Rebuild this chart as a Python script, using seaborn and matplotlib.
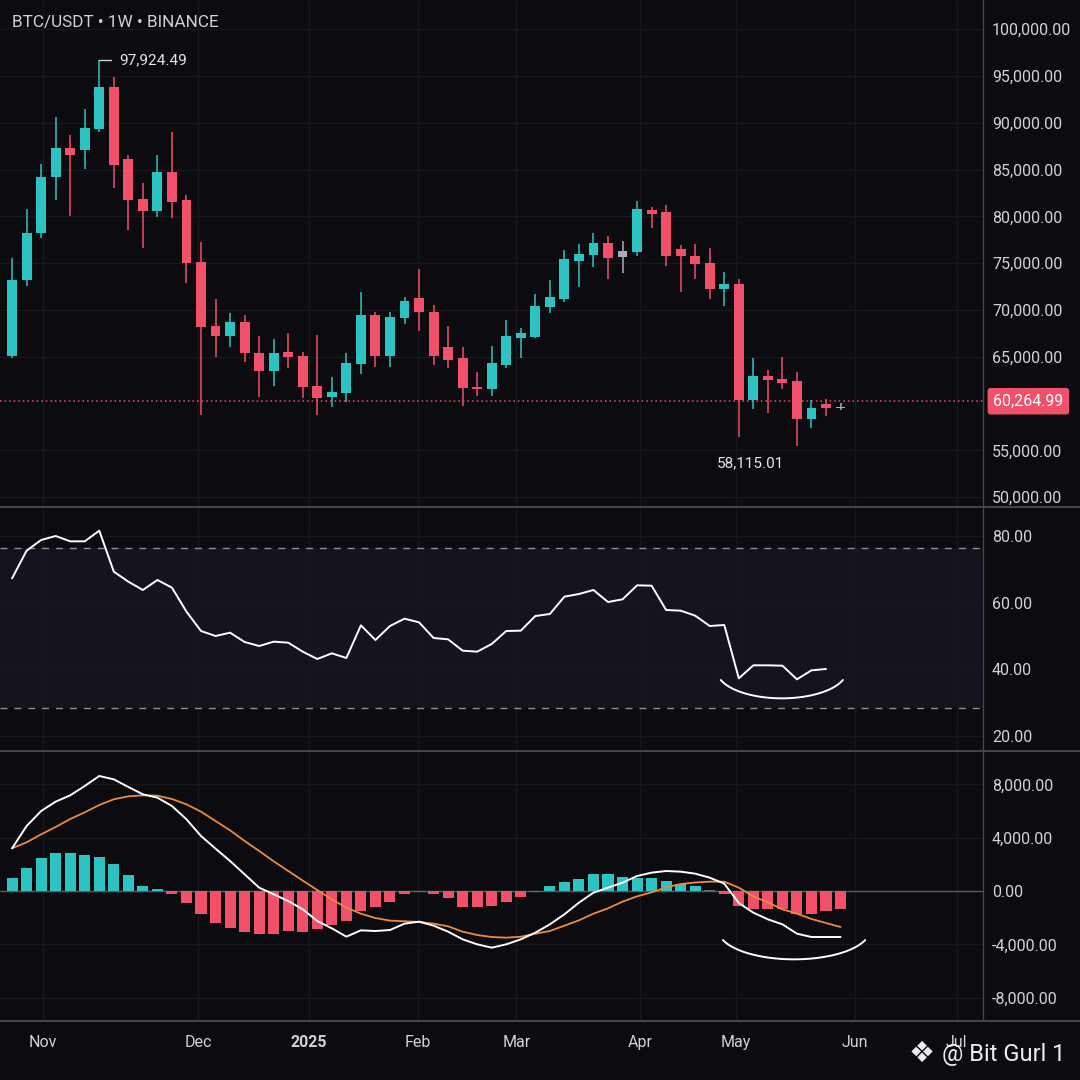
import numpy as np
import pandas as pd
import matplotlib.pyplot as plt
import seaborn as sns
from matplotlib.lines import Line2D
from matplotlib.ticker import FuncFormatter
from matplotlib.transforms import blended_transform_factory

# colours
BG = "#0b0b10"
BAND = "#15131e"
UP = "#2ec3c3"
DOWN = "#f0506a"
FLAT = "#a9adb8"
TXT = "#d2d2d6"
SEP = "#46464d"
GRID = "#17171d"
ORANGE = "#ef8a3c"

# weekly candles
opens = [65095, 73215, 78236, 84219, 87318, 87104, 89348, 93835, 86142, 81869,
         80587, 84754, 81762, 75138, 68300, 67232, 68728, 65415, 63492, 65522,
         65095, 61890, 60715, 61142, 64240, 69475, 65095, 69155, 71292, 69796,
         66057, 64881, 61783, 61569, 64133, 67018, 67125, 70330, 71185, 75245,
         75886, 77168, 75672, 76206, 80694, 80480, 76527, 75779, 75031, 72253,
         72787, 60394, 62958, 62638, 62424, 58364, 59967, 59646]
highs = [75565, 80800, 85608, 90630, 88707, 91484, 96720, 94903, 86570, 83578,
         86570, 89027, 82296, 77275, 71185, 69689, 69475, 67232, 66911, 67552,
         65522, 67339, 62851, 65415, 71933, 69796, 69796, 71399, 74390, 70544,
         68300, 66057, 63386, 66163, 68941, 68086, 71719, 73215, 76420, 77061,
         78236, 77916, 77382, 81655, 81014, 81228, 76954, 77061, 76634, 74070,
         73322, 64881, 63599, 64988, 63386, 60394, 60501, 60073]
lows = [64881, 72574, 77702, 81762, 80053, 85074, 89027, 83044, 78557, 76634,
        79946, 79839, 72894, 58791, 64988, 66057, 64454, 60715, 61890, 63813,
        60608, 58791, 59646, 60180, 63172, 63920, 63920, 68514, 67766, 64133,
        63813, 59753, 60821, 60821, 63813, 64881, 67018, 69689, 70864, 72467,
        74604, 73322, 73963, 75779, 78770, 74711, 71933, 73322, 71185, 70437,
        56441, 59432, 59005, 61569, 55479, 57402, 58685, 59326]
closes = [73215, 78236, 84219, 87318, 86570, 89454, 93835, 85501, 81762, 80587,
          84754, 81548, 75031, 68193, 67232, 68728, 65415, 63492, 65415, 64988,
          61783, 60608, 61249, 64347, 69475, 65095, 69262, 70971, 69796, 65095,
          64668, 61676, 61569, 64347, 67232, 67552, 70437, 71399, 75458, 75993,
          77168, 75565, 76313, 80800, 80266, 75779, 75779, 74924, 72253, 72787,
          60394, 62958, 62531, 62210, 58364, 59539, 59539, 59539]
flat_weeks = [42, 57]

rsi = [67.3, 75.6, 78.8, 80.0, 78.4, 78.4, 81.6, 69.3, 66.3, 63.8,
       66.8, 64.5, 57.3, 51.5, 50.0, 51.0, 48.2, 47.0, 48.3, 48.0,
       45.3, 43.1, 44.8, 43.4, 53.2, 48.8, 53.0, 55.2, 54.1, 49.4,
       49.0, 45.6, 45.3, 47.6, 51.5, 51.6, 56.0, 56.6, 61.8, 62.6,
       63.8, 60.2, 61.0, 65.2, 65.1, 57.8, 57.6, 56.1, 53.0, 53.3,
       37.3, 41.2, 41.2, 41.1, 37.0, 39.7, 40.1]
rsi_upper, rsi_lower = 76.3, 28.5

macd = [3200, 4875, 6000, 6700, 7175, 7875, 8625, 8375, 7800, 7250,
        7000, 6375, 5375, 4125, 3175, 2250, 1250, 250, -250, -750,
        -1375, -2250, -2800, -3425, -2950, -3000, -2925, -2450, -2300, -2600,
        -3050, -3625, -4000, -4250, -4000, -3625, -3125, -2500, -1750, -875,
        -125, 250, 625, 1125, 1375, 1500, 1450, 1300, 1000, 550,
        -900, -1625, -2125, -2500, -3200, -3450, -3450, -3450]
signal = [3200, 3650, 4250, 4800, 5400, 5900, 6450, 6880, 7100, 7175,
          7150, 6900, 6500, 5950, 5250, 4550, 3750, 3000, 2230, 1500,
          780, 70, -630, -1250, -1700, -2030, -2220, -2270, -2320, -2450,
          -2650, -3050, -3300, -3450, -3500, -3430, -3200, -3000, -2600, -2200,
          -1700, -1300, -800, -400, -100, 270, 520, 640, 700, 700,
          250, -400, -850, -1375, -1700, -2100, -2400, -2700]
histo = [1000, 1750, 2500, 2875, 2875, 2700, 2550, 2000, 1175, 375,
         175, -200, -875, -1750, -2425, -2750, -3050, -3250, -3200, -3000,
         -3050, -2875, -2575, -2250, -1500, -1200, -825, -250, -50, -250,
         -500, -1200, -1200, -1125, -800, -425, -50, 375, 700, 925,
         1250, 1250, 1050, 1000, 1000, 750, 550, 375, 50, -250,
         -1100, -1350, -1350, -1350, -1725, -1725, -1500, -1375]

month_pos = [2.1, 12.8, 20.4, 27.9, 34.7, 43.2, 49.8, 58.0, 65.0]
month_lbl = ["Nov", "Dec", "2025", "Feb", "Mar", "Apr", "May", "Jun", "Jul"]
# 60,000 is hidden behind the last-price tag
price_ticks = [50000, 55000, 65000, 70000, 75000, 80000, 85000, 90000, 95000, 100000]
rsi_ticks = [20, 40, 60, 80]
macd_ticks = [-8000, -4000, 0, 4000, 8000]
last_price = 60264.99
high_label = "97,924.49"
low_label = "58,115.01"

df = pd.DataFrame({"o": opens, "h": highs, "l": lows, "c": closes,
                   "macd": macd, "sig": signal, "histo": histo})
df["i"] = np.arange(len(df))
df["kind"] = np.where(df["c"] >= df["o"], "up", "down")
df.loc[flat_weeks, "kind"] = "flat"
df["hkind"] = np.where(df["histo"] >= 0, "up", "down")
df.loc[df["histo"].abs() <= 60, "hkind"] = "flat"
pal = {"up": UP, "down": DOWN, "flat": "#6d7079"}

sns.set_theme(style="dark", rc={"axes.facecolor": BG, "figure.facecolor": BG,
                                "axes.edgecolor": BG, "grid.color": GRID})
plt.rcParams["font.family"] = ["Roboto", "DejaVu Sans"]

W = H = 1080
fig = plt.figure(figsize=(10.8, 10.8), dpi=100)


def panel(top, bottom):
    return [0, 1 - bottom / H, 983 / W, (bottom - top) / H]


ax_p = fig.add_axes(panel(0, 507))
ax_r = fig.add_axes(panel(507, 751))
ax_m = fig.add_axes(panel(751, 1021))

# price candles
col = df["kind"].map({"up": UP, "down": DOWN, "flat": FLAT})
ax_p.vlines(df["i"], df["l"], df["h"], colors=col, lw=1.1, zorder=3)
body = (df["c"] - df["o"]).abs().clip(lower=120)
ax_p.bar(df["i"], body, bottom=df[["o", "c"]].min(axis=1), width=0.68,
         color=col, linewidth=0, zorder=4)
ax_p.axhline(last_price, color=DOWN, lw=1.1, ls=(0, (1, 2)), zorder=2)

hi = df["h"].idxmax()
ax_p.plot([hi, hi + 0.8], [df["h"][hi]] * 2, color=TXT, lw=1, zorder=3)
ax_p.annotate(high_label, (hi, df["h"][hi]), xytext=(14.5, 0),
              textcoords="offset points", ha="left", va="center",
              color="#e6e6e6", fontsize=11)
lo = 50  # the big May flush
ax_p.annotate(low_label, (lo, df["l"][lo]), xytext=(8.5, -19),
              textcoords="offset points", ha="center", va="center",
              color="#e6e6e6", fontsize=11)
tr = blended_transform_factory(ax_p.transAxes, ax_p.transData)
ax_p.text(1.0105, last_price, f"{last_price:,.2f}", transform=tr, ha="left",
          va="center", color="white", fontsize=11.5, clip_on=False,
          bbox=dict(boxstyle="round,pad=0.36,rounding_size=0.2", fc=DOWN, ec="none"))
ax_p.set_ylim(48963, 103130)
ax_p.set_yticks(price_ticks)

# RSI
ax_r.axhspan(rsi_lower, rsi_upper, color=BAND, lw=0, zorder=0)
for lvl in (rsi_upper, rsi_lower):
    ax_r.axhline(lvl, color="#8e8e96", lw=1, ls=(0, (5, 5)), zorder=1)
sns.lineplot(x=np.arange(len(rsi)), y=rsi, ax=ax_r, color="white", lw=1.4, zorder=3)


def smile(ax, cx, cy, rx, ry):
    t = np.radians(np.linspace(200, 340, 60))
    ax.plot(cx + rx * np.cos(t), cy + ry * np.sin(t), color="white", lw=1.4, zorder=4)


smile(ax_r, 52.96, 39.66, 4.47, 8.36)
ax_r.set_ylim(15.5, 88.7)
ax_r.set_yticks(rsi_ticks)

# MACD
ax_m.axhline(0, color="#5a5a61", lw=1, zorder=1)
sns.barplot(data=df, x="i", y="histo", hue="hkind", palette=pal, dodge=False,
            native_scale=True, width=0.76, saturation=1, errorbar=None,
            legend=False, linewidth=0, ax=ax_m, zorder=2)
sns.lineplot(data=df, x="i", y="macd", ax=ax_m, color="white", lw=1.4, zorder=4)
sns.lineplot(data=df, x="i", y="sig", ax=ax_m, color=ORANGE, lw=1.3, zorder=3)
smile(ax_m, 53.8, -2921, 5.21, 2204)
ax_m.set_ylim(-9750, 10500)
ax_m.set_yticks(macd_ticks)

for ax in (ax_p, ax_r, ax_m):
    ax.set_facecolor(BG)
    ax.set_xlim(-0.83, 66.8)
    ax.set_xticks(month_pos)
    ax.set_xlabel("")
    ax.set_ylabel("")
    for s in ax.spines.values():
        s.set_visible(False)
    ax.yaxis.tick_right()
    ax.yaxis.set_major_formatter(FuncFormatter(lambda v, p: f"{v:,.2f}"))
    ax.tick_params(axis="y", length=0, pad=6.5, labelsize=11.5, labelcolor=TXT)
    ax.tick_params(axis="x", length=0, labelbottom=False)
    ax.grid(True, color=GRID, lw=1)
    ax.set_axisbelow(True)

ax_m.set_xticks(month_pos, month_lbl)
ax_m.tick_params(axis="x", labelbottom=True, pad=10, labelsize=11.5, labelcolor=TXT)
for t in ax_m.get_xticklabels():
    if t.get_text() == "2025":
        t.set_fontweight("bold")

# panel separators
for y in (507, 751, 1021):
    fig.add_artist(Line2D([0, 1], [1 - y / H] * 2, transform=fig.transFigure,
                          color=SEP, lw=1.4))
fig.add_artist(Line2D([983 / W] * 2, [1 - 1021 / H, 1], transform=fig.transFigure,
                      color=SEP, lw=1))

fig.text(12 / W, 1 - 22 / H, "BTC/USDT • 1W • BINANCE", ha="left", va="center",
         fontsize=12.3, color=TXT)
fig.text(922 / W, 1 - 1054 / H, "❖", ha="center", va="center", fontsize=21,
         color="#ececec", family="DejaVu Sans")
fig.text(942 / W, 1 - 1054 / H, "@ Bit Gurl 1", ha="left", va="center",
         fontsize=17, color="#ececec")

fig.savefig("out.png", dpi=100, facecolor=BG)
